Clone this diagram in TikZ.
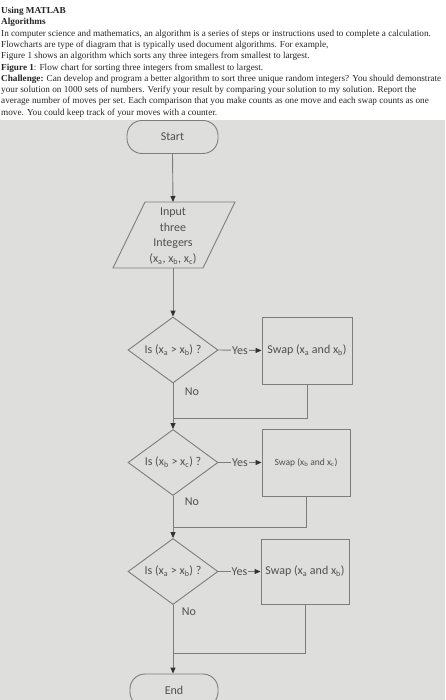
\documentclass[tikz,border=0pt]{standalone}
\usepackage{fontspec}
\setmainfont{Liberation Serif}
\newfontfamily\diag{Carlito}
\usetikzlibrary{shapes.geometric,arrows.meta}
\definecolor{bg}{RGB}{222,222,220}
\definecolor{ln}{RGB}{125,125,125}
\definecolor{tx}{RGB}{80,80,80}
\tikzset{
  base/.style={draw=ln, line width=0.9pt, text=tx, font=\diag\fontsize{12}{14}\selectfont},
  term/.style={base, rectangle, rounded corners=15pt, minimum width=91pt, minimum height=33pt, inner sep=0pt},
  dec/.style={base, diamond, aspect=1.36, minimum width=90pt, minimum height=66pt, inner sep=0pt},
  proc/.style={base, rectangle, minimum width=89pt, minimum height=67pt, inner sep=0pt},
  conn/.style={draw=ln, line width=0.9pt},
  arr/.style={conn, -{Triangle[length=6pt,width=5pt,color=black!80]}},
  lbl/.style={text=tx, font=\diag\fontsize{12}{14}\selectfont, inner sep=1pt},
}
\begin{document}
\begin{tikzpicture}[x=1pt,y=-1pt]
\useasboundingbox (0,0) rectangle (445,700);
\clip (0,0) rectangle (445,700);
\fill[white] (0,0) rectangle (445,120);
\fill[bg] (0,120) rectangle (445,700);

\node[anchor=north west, inner sep=0pt, align=left, text=black!85,
      font=\fontsize{9.2}{11.3}\selectfont] (intro) at (1,7)
 {\textbf{Using MATLAB}\\
  \textbf{Algorithms}\\
  In computer science and mathematics, an algorithm is a series of steps or instructions used to complete a calculation.\\
  Flowcharts are type of diagram that is typically used document algorithms. For example,\\
  Figure 1 shows an algorithm which sorts any three integers from smallest to largest.\\
  \textbf{Figure 1}: Flow chart for sorting three integers from smallest to largest.\\
  \textbf{Challenge:} Can develop and program a better algorithm to sort three unique random integers? You should demonstrate\\
  your solution on 1000 sets of numbers. Verify your result by comparing your solution to my solution. Report the\\
  average number of moves per set. Each comparison that you make counts as one move and each swap counts as one\\
  move. You could keep track of your moves with a counter.};

% start
\node[term] (start) at (172.5,137) {Start};

% input parallelogram
\draw[conn] (145,202) -- (235,202) -- (203,268) -- (113,268) -- cycle;
\node[lbl, align=center, font=\diag\fontsize{12}{15.8}\selectfont] (input) at (173,236)
 {Input\\three\\Integers\\(x\textsubscript{a}, x\textsubscript{b}, x\textsubscript{c})};
\coordinate (inTop) at (173,202);
\coordinate (inBot) at (173,268);

% decisions
\node[dec] (d1) at (173,350) {Is (x\textsubscript{a} > x\textsubscript{b}) ?};
\node[dec] (d2) at (173,462.5) {Is (x\textsubscript{b} > x\textsubscript{c}) ?};
\node[dec] (d3) at (173,571.5) {Is (x\textsubscript{a} > x\textsubscript{b}) ?};

% swaps
\node[proc, minimum width=90pt] (s1) at (307,350.5) {Swap (x\textsubscript{a} and x\textsubscript{b})};
\node[proc, minimum width=88pt, font=\diag\fontsize{9.5}{11}\selectfont] (s2) at (306,462.5) {Swap (x\textsubscript{b} and x\textsubscript{c})};
\node[proc, minimum width=88pt, minimum height=65pt] (s3) at (305,571.5) {Swap (x\textsubscript{a} and x\textsubscript{b})};

% end
\node[term, minimum width=88pt] (end) at (174,690.5) {End};

% joins
\coordinate (j1) at (173,418);
\coordinate (j2) at (173,527);
\coordinate (j3) at (173,653);

% connectors
\draw[arr] (start.south) -- (inTop);
\draw[arr] (inBot) -- (d1.north);
\draw[arr] (d1.south) -- (d2.north);
\draw[arr] (d2.south) -- (d3.north);
\draw[arr] (d3.south) -- (d3.south |- end.north);
\draw[conn] (s1.south) |- (j1);
\draw[conn] (s2.south) |- (j2);
\draw[conn] (s3.south) |- (j3);

\draw[arr] (d1.east) -- node[lbl, fill=bg] (y1) {Yes} (s1.west);
\draw[arr] (d2.east) -- node[lbl, fill=bg] (y2) {Yes} (s2.west);
\draw[arr] (d3.east) -- node[lbl, fill=bg] (y3) {Yes} (s3.west);

\node[lbl] (n1) at (192,392) {No};
\node[lbl] (n2) at (192,502) {No};
\node[lbl] (n3) at (189,612) {No};
\end{tikzpicture}
\end{document}
